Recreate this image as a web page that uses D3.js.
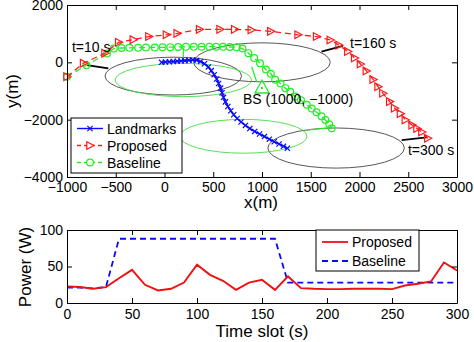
<!DOCTYPE html>
<html>
<head>
<meta charset="utf-8">
<script src="https://cdn.jsdelivr.net/npm/d3@7/dist/d3.min.js"></script>
<style>
  body { margin: 0; background: #fff; }
  svg { display: block; font-family: "Liberation Sans", Arial, Helvetica, sans-serif; }
</style>
</head>
<body>
<svg id="chart" width="474" height="342"></svg>
<script>
// ---- trajectory data (metres) ----
const propX = [-1000, -830, -610, -470, -320, -160, 20, 130, 360, 570, 720, 890, 1090, 1370, 1560, 1700,
  1790, 1880, 1950, 2010, 2070, 2140, 2190, 2240, 2310, 2360, 2420, 2470, 2540, 2590, 2640, 2700];
const propY = [-500, -30, 320, 700, 790, 900, 960, 1010, 1150, 1150, 1150, 1130, 1080, 960, 900, 780,
  600, 380, 150, -60, -300, -600, -850, -1080, -1370, -1600, -1790, -2010, -2190, -2310, -2430, -2650];

const baseX = [-1000, -800, -590, -520, -440, -360, -270, -190, -100, -20, 60, 140, 220, 300, 380, 460,
  530, 600, 670, 740, 800, 860, 920, 980, 1040, 1090, 1135, 1190, 1240, 1290, 1340, 1400, 1460, 1510,
  1560, 1610, 1650, 1690, 1715];
const baseY = [-500, -100, 310, 480, 500, 505, 510, 515, 520, 525, 530, 535, 540, 540, 545, 545,
  545, 540, 535, 525, 480, 320, 150, -30, -250, -400, -610, -740, -900, -1030, -1190, -1320, -1480, -1610,
  -1740, -1880, -2010, -2160, -2300];

const lmX = [-30, 10, 50, 90, 130, 170, 210, 250, 290, 330, 370, 410, 450, 480, 510, 535, 555, 575, 590,
  605, 625, 650, 680, 710, 745, 785, 830, 875, 925, 975, 1025, 1075, 1125, 1175, 1220, 1260];
const lmY = [0, 10, 20, 30, 40, 50, 60, 70, 80, 70, 30, -50, -160, -290, -430, -580, -740, -900, -1060,
  -1220, -1380, -1540, -1690, -1830, -1960, -2080, -2200, -2310, -2410, -2500, -2590, -2680, -2770,
  -2850, -2930, -3000];

// uncertainty ellipses: centre, semi-axes, which scheme
const ellCx = [90, 1000, 1760, 193, 810];
const ellCy = [-480, 0, -2990, -617, -2580];
const ellRx = [700, 700, 700, 700, 651];
const ellRy = [660, 680, 700, 580, 590];
const ellSeries = ['Proposed', 'Proposed', 'Proposed', 'Baseline', 'Baseline'];

// short link lines from an ellipse to its trajectory point [x1, y1, x2, y2]
const links = [
  { series: 'Proposed', p: [-797, -95, -576, -210] },
  { series: 'Proposed', p: [1610, 370, 1830, 570] },
  { series: 'Proposed', p: [2433, -2710, 2690, -2616] },
  { series: 'Baseline', p: [193, 500, 193, -35] },
  { series: 'Baseline', p: [894, -153, 946, -677] },
  { series: 'Baseline', p: [1459, -2365, 1697, -2282] }
];

const bsPos = [1000, -1000];
const notes = [
  { text: 't=10 s', x: -949, y: 360 },
  { text: 't=160 s', x: 1903, y: 500 },
  { text: 't=300 s', x: 2497, y: -3233 },
  { text: 'BS (1000, \u22121000)', x: 805, y: -1455 }
];

const xTicksTop = [-1000, -500, 0, 500, 1000, 1500, 2000, 2500, 3000];
const yTicksTop = [-4000, -2000, 0, 2000];

// ---- power data ----
const slots = d3.range(0, 301, 10);
const powerProposed = [22.6, 22, 19.5, 21.8, 34, 45.4, 25, 17.2, 19.5, 28, 52.5, 38.6, 30.4, 18, 28, 31.8,
  18, 36.4, 20.4, 19.5, 19, 19, 19.5, 19.5, 19.5, 19, 24, 26.3, 29.5, 55.5, 44.5];
const powerBaseline = [21, 21, 20, 22, 88, 88, 88, 88, 88, 88, 88, 88, 88, 88, 88, 88,
  88, 28, 28, 28, 28, 28, 28, 28, 28, 28, 28, 28, 28, 28, 28];
const xTicksBot = [0, 50, 100, 150, 200, 250, 300];
const yTicksBot = [0, 50, 100];

const RED = '#ff1a1a';
const GREEN = '#22ee22';
const BLUE = '#0a0aff';

const svg = d3.select('#chart');
const fmt = d => String(d).replace('-', '\u2212');

function boxAxes(g, x, y, xt, yt, padX, padY) {
  const [x0, x1] = x.range();
  const [y1, y0] = y.range();
  g.append('g').attr('transform', `translate(0,${y1})`)
    .call(d3.axisBottom(x).tickValues(xt).tickFormat(fmt).tickSize(-5).tickSizeOuter(0).tickPadding(padX));
  g.append('g').attr('transform', `translate(0,${y0})`)
    .call(d3.axisTop(x).tickValues(xt).tickFormat('').tickSize(-5).tickSizeOuter(0));
  g.append('g').attr('transform', `translate(${x0},0)`)
    .call(d3.axisLeft(y).tickValues(yt).tickFormat(fmt).tickSize(-5).tickSizeOuter(0).tickPadding(padY));
  g.append('g').attr('transform', `translate(${x1},0)`)
    .call(d3.axisRight(y).tickValues(yt).tickFormat('').tickSize(-5).tickSizeOuter(0));
  g.selectAll('.tick text').attr('font-size', 14).attr('fill', '#000')
    .attr('font-family', '"Liberation Sans", Arial, sans-serif');
  g.selectAll('.domain, .tick line').attr('stroke', '#000');
}

// ================= top panel =================
const xTop = d3.scaleLinear().domain([-1000, 3000]).range([67, 457]);
const yTop = d3.scaleLinear().domain([-4000, 2000]).range([177, 5]);
const topG = svg.append('g');
const plot = topG.append('g');

// ellipses
plot.selectAll('ellipse').data(d3.range(ellCx.length)).enter().append('ellipse')
  .attr('cx', i => xTop(ellCx[i]))
  .attr('cy', i => yTop(ellCy[i]))
  .attr('rx', i => xTop(ellRx[i]) - xTop(0))
  .attr('ry', i => yTop(0) - yTop(ellRy[i]))
  .attr('fill', 'none')
  .attr('stroke', i => ellSeries[i] === 'Proposed' ? '#444' : '#44dd44')
  .attr('stroke-width', 0.9);

plot.selectAll('line.link').data(links).enter().append('line')
  .attr('class', 'link')
  .attr('x1', d => xTop(d.p[0])).attr('y1', d => yTop(d.p[1]))
  .attr('x2', d => xTop(d.p[2])).attr('y2', d => yTop(d.p[3]))
  .attr('stroke', d => d.series === 'Proposed' ? '#000' : GREEN)
  .attr('stroke-width', d => d.series === 'Proposed' ? 1.8 : 1.2);

// base station
const bsG = plot.append('g').attr('transform', `translate(${xTop(bsPos[0])},${yTop(bsPos[1])})`);
bsG.append('path').attr('d', 'M0,-11L7,2L-7,2Z').attr('fill', 'none').attr('stroke', GREEN).attr('stroke-width', 1.3);
bsG.append('circle').attr('cy', -3).attr('r', 0.9).attr('fill', '#119911');

const lineTop = (xs, ys) => d3.line().x(i => xTop(xs[i])).y(i => yTop(ys[i]))(d3.range(xs.length));

// landmarks
plot.append('path').attr('d', lineTop(lmX, lmY))
  .attr('fill', 'none').attr('stroke', BLUE).attr('stroke-width', 1.6);
plot.selectAll('path.lm').data(d3.range(lmX.length)).enter().append('path')
  .attr('class', 'lm')
  .attr('transform', i => `translate(${xTop(lmX[i])},${yTop(lmY[i])})`)
  .attr('d', 'M-2.6,-2.6L2.6,2.6M-2.6,2.6L2.6,-2.6')
  .attr('stroke', BLUE).attr('stroke-width', 1.2);

// baseline
plot.append('path').attr('d', lineTop(baseX, baseY))
  .attr('fill', 'none').attr('stroke', GREEN).attr('stroke-width', 1.3).attr('stroke-dasharray', '6,4');
plot.selectAll('circle.base').data(d3.range(baseX.length)).enter().append('circle')
  .attr('class', 'base')
  .attr('cx', i => xTop(baseX[i])).attr('cy', i => yTop(baseY[i])).attr('r', 3.4)
  .attr('fill', 'none').attr('stroke', GREEN).attr('stroke-width', 1.2);

// proposed
plot.append('path').attr('d', lineTop(propX, propY))
  .attr('fill', 'none').attr('stroke', RED).attr('stroke-width', 1.3).attr('stroke-dasharray', '6,4');
const TRI = 'M-3.2,-3.8L4,0L-3.2,3.8Z';
plot.selectAll('path.prop').data(d3.range(propX.length)).enter().append('path')
  .attr('class', 'prop')
  .attr('transform', i => `translate(${xTop(propX[i])},${yTop(propY[i])})`)
  .attr('d', TRI).attr('fill', 'none').attr('stroke', RED).attr('stroke-width', 1.2);

topG.selectAll('text.note').data(notes).enter().append('text')
  .attr('class', 'note')
  .attr('x', d => xTop(d.x)).attr('y', d => yTop(d.y))
  .attr('font-size', 14).text(d => d.text);

boxAxes(topG, xTop, yTop, xTicksTop, yTicksTop, 5, 4);

topG.append('text').attr('x', 261).attr('y', 208).attr('text-anchor', 'middle')
  .attr('font-size', 17).text('x(m)');
topG.append('text').attr('transform', 'translate(18,91) rotate(-90)').attr('text-anchor', 'middle')
  .attr('font-size', 17).text('y(m)');

// legend (top)
const leg = topG.append('g');
leg.append('rect').attr('x', 71).attr('y', 118).attr('width', 111).attr('height', 55)
  .attr('fill', '#fff').attr('stroke', '#000');
const legItems = [
  { name: 'Landmarks', color: BLUE, dash: null, mark: 'x' },
  { name: 'Proposed', color: RED, dash: '4,3', mark: 'tri' },
  { name: 'Baseline', color: GREEN, dash: '4,3', mark: 'o' }
];
legItems.forEach((d, k) => {
  const yy = 128.5 + k * 17;
  leg.append('line').attr('x1', 77).attr('x2', 103).attr('y1', yy).attr('y2', yy)
    .attr('stroke', d.color).attr('stroke-width', 1.4).attr('stroke-dasharray', d.dash);
  const m = leg.append('g').attr('transform', `translate(90,${yy})`);
  if (d.mark === 'x') {
    m.append('path').attr('d', 'M-2.6,-2.6L2.6,2.6M-2.6,2.6L2.6,-2.6').attr('stroke', d.color).attr('stroke-width', 1.2);
  } else if (d.mark === 'tri') {
    m.append('path').attr('d', TRI).attr('fill', '#fff').attr('stroke', d.color).attr('stroke-width', 1.2);
  } else {
    m.append('circle').attr('r', 3.4).attr('fill', '#fff').attr('stroke', d.color).attr('stroke-width', 1.2);
  }
  leg.append('text').attr('x', 107).attr('y', yy + 5).attr('font-size', 14).text(d.name);
});

// ================= bottom panel =================
const xBot = d3.scaleLinear().domain([0, 300]).range([67, 457]);
const yBot = d3.scaleLinear().domain([0, 100]).range([303, 230]);
const botG = svg.append('g');

const lineBot = vals => d3.line().x((v, i) => xBot(slots[i])).y(v => yBot(v))(vals);

botG.append('path').attr('d', lineBot(powerBaseline))
  .attr('fill', 'none').attr('stroke', BLUE).attr('stroke-width', 1.8).attr('stroke-dasharray', '6,4');
botG.append('path').attr('d', lineBot(powerProposed))
  .attr('fill', 'none').attr('stroke', '#ee1111').attr('stroke-width', 1.9);

boxAxes(botG, xBot, yBot, xTicksBot, yTicksBot, 6, 4);

botG.append('text').attr('x', 262).attr('y', 337).attr('text-anchor', 'middle')
  .attr('font-size', 17).text('Time slot (s)');
botG.append('text').attr('transform', 'translate(31,267) rotate(-90)').attr('text-anchor', 'middle')
  .attr('font-size', 17).text('Power (W)');

const leg2 = botG.append('g');
leg2.append('rect').attr('x', 316).attr('y', 230).attr('width', 103).attr('height', 41)
  .attr('fill', '#fff').attr('stroke', '#000');
[{ name: 'Proposed', color: '#ee1111', dash: null }, { name: 'Baseline', color: BLUE, dash: '6,4' }]
  .forEach((d, k) => {
    const yy = 242 + k * 19;
    leg2.append('line').attr('x1', 322).attr('x2', 348).attr('y1', yy).attr('y2', yy)
      .attr('stroke', d.color).attr('stroke-width', 1.8).attr('stroke-dasharray', d.dash);
    leg2.append('text').attr('x', 352).attr('y', yy + 5).attr('font-size', 14).text(d.name);
  });
</script>
</body>
</html>
